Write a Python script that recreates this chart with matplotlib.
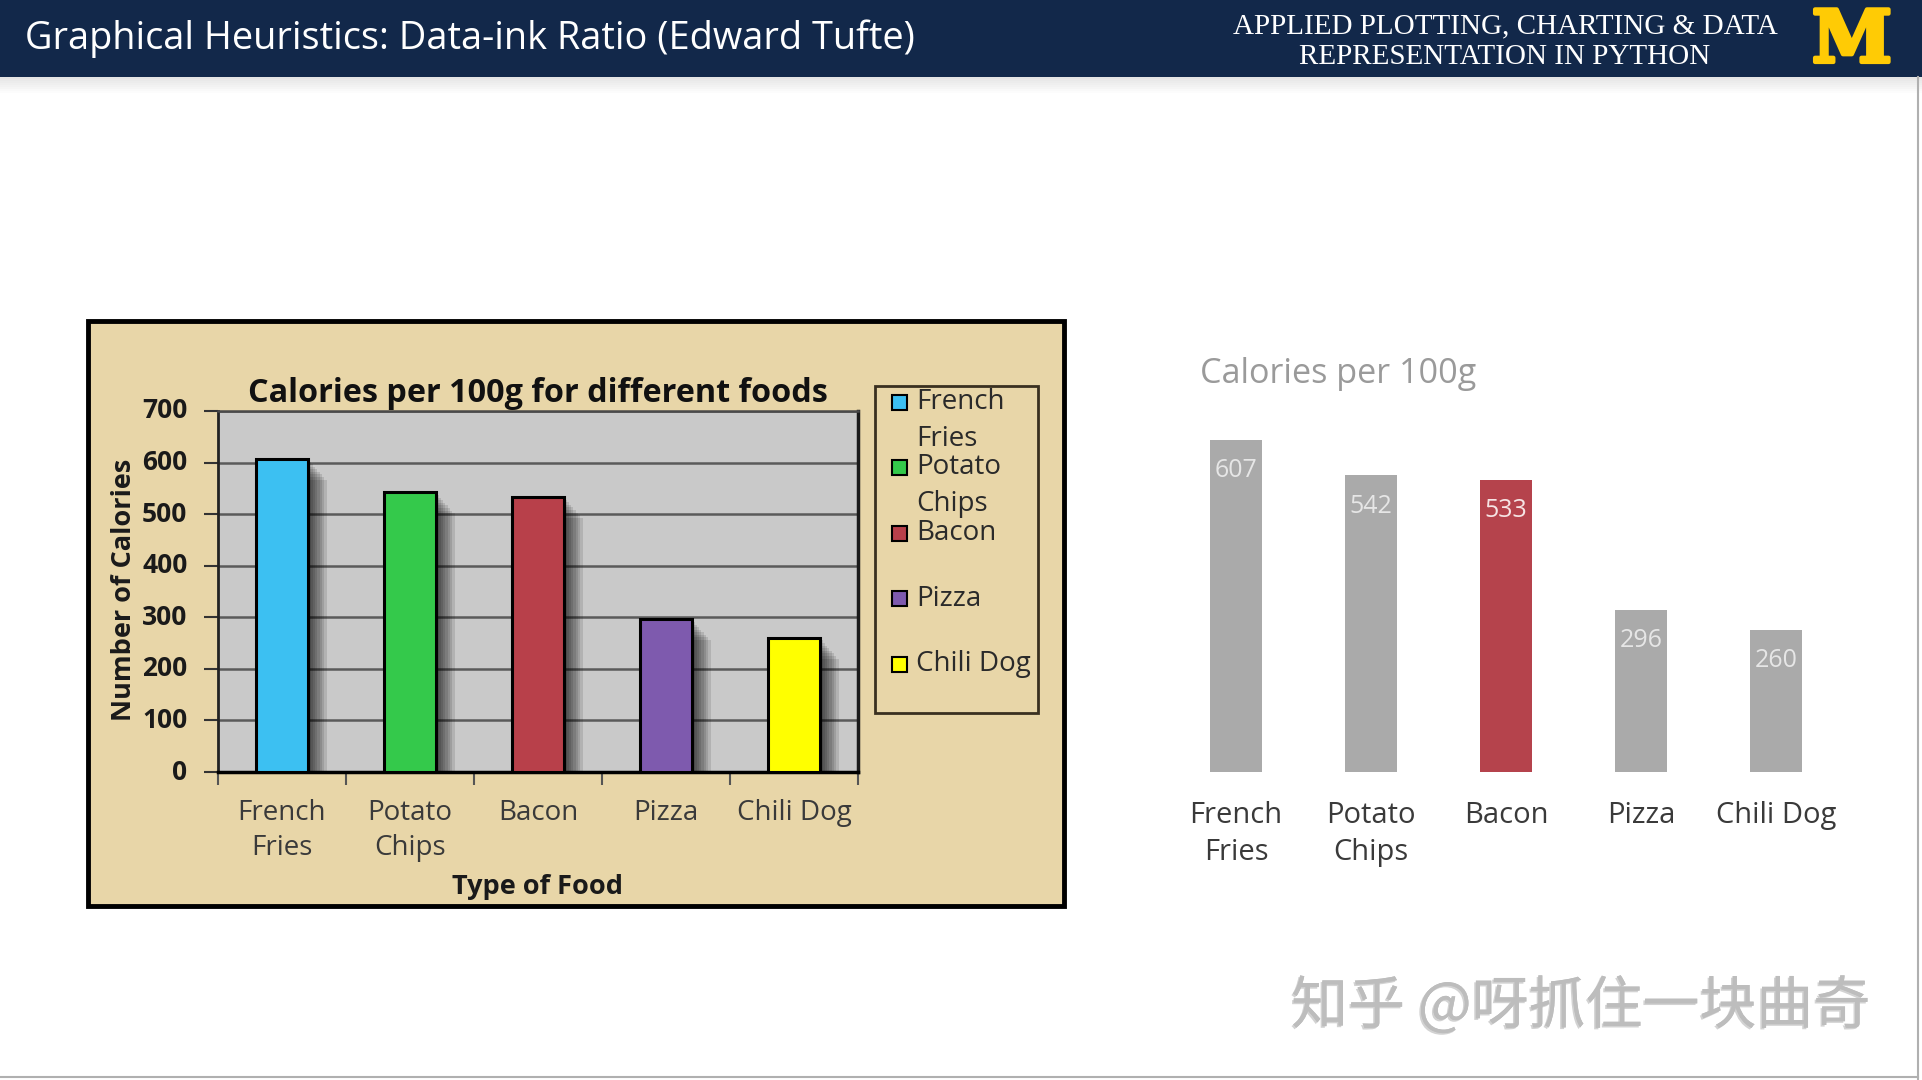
import numpy as np
import matplotlib
matplotlib.use('Agg')
import matplotlib.pyplot as plt
from matplotlib.patches import Rectangle
from matplotlib.lines import Line2D
from matplotlib import patheffects as pe
from matplotlib import transforms

# data
foods = ['French Fries', 'Potato Chips', 'Bacon', 'Pizza', 'Chili Dog']
tick_labels = ['French\nFries', 'Potato\nChips', 'Bacon', 'Pizza', 'Chili Dog']
calories = [607, 542, 533, 296, 260]
bar_colors = ['#3cc0f2', '#34c94b', '#b8404a', '#7e5aae', '#ffff00']
y_ticks = [0, 100, 200, 300, 400, 500, 600, 700]
highlight = 'Bacon'

W, H = 1922, 1080
plt.rcParams['font.family'] = ['Open Sans', 'DejaVu Sans']

fig = plt.figure(figsize=(W / 100, H / 100), dpi=100)
fig.patch.set_facecolor('white')


def box(x0, y0, x1, y1):
    # pixel box (origin top-left) -> figure rect
    return [x0 / W, 1 - y1 / H, (x1 - x0) / W, (y1 - y0) / H]


def rect(x0, y0, x1, y1, **kw):
    l, b, w, h = box(x0, y0, x1, y1)
    r = Rectangle((l, b), w, h, transform=fig.transFigure, **kw)
    fig.add_artist(r)
    return r


# ---- slide header ----
rect(0, 0, W, 77, facecolor='#12284a', edgecolor='none', zorder=-5)
for k in range(8):
    rect(0, 77 + k * 2, W, 79 + k * 2, facecolor='black', edgecolor='none',
         alpha=0.10 * (1 - k / 8), zorder=-5)
fig.text(25 / W, 1 - 39 / H, 'Graphical Heuristics: Data-ink Ratio (Edward Tufte)',
         color='white', fontsize=27.3, va='center', ha='left')
fig.text(1505 / W, 1 - 26 / H, 'APPLIED PLOTTING, CHARTING & DATA', color='white',
         fontsize=21, family='Liberation Serif', ha='center', va='center')
fig.text(1505 / W, 1 - 57 / H, 'REPRESENTATION IN PYTHON', color='white',
         fontsize=21, family='Liberation Serif', ha='center', va='center')
fig.text(1852 / W, 1 - 62 / H, 'M', color='#ffcb05', fontsize=52, weight='bold',
         family='DejaVu Serif', ha='center', va='baseline',
         path_effects=[pe.Stroke(linewidth=3, foreground='#ffcb05'), pe.Normal()])

# slide border lines
fig.add_artist(Line2D([1918 / W, 1918 / W], [0, 1 - 77 / H], transform=fig.transFigure,
                      color='#b0b0b0', lw=1.5))
fig.add_artist(Line2D([0, 1918 / W], [1 - 1077 / H, 1 - 1077 / H], transform=fig.transFigure,
                      color='#b0b0b0', lw=1.5))

# ---- left chart: the ink-heavy version ----
rect(88, 321, 1064, 906, facecolor='#e8d6a8', edgecolor='black', lw=3.5, zorder=-4)

x = np.arange(len(foods))
ax1 = fig.add_axes(box(218, 411, 858, 772))
ax1.set_facecolor('#c9c9c9')
for k in range(1, 9):
    ax1.bar(x + 0.018 * k, np.array(calories) - 5 * k, width=0.41, color='black',
            alpha=0.11, lw=0, zorder=2)
ax1.bar(x, calories, width=0.41, color=bar_colors, edgecolor='black', lw=2.2, zorder=3)
ax1.set_xlim(-0.5, len(foods) - 0.5)
ax1.set_ylim(0, 700)
ax1.set_yticks(y_ticks)
ax1.set_yticklabels([str(t) for t in y_ticks], fontsize=19, weight='bold', color='#1a1a1a')
ax1.tick_params(axis='y', length=10, width=1.5, pad=12, color='#333333')
nudge = transforms.ScaledTranslation(0, 3 / 100, fig.dpi_scale_trans)
for lab in ax1.get_yticklabels():
    lab.set_transform(lab.get_transform() + nudge)
ax1.set_xticks(x)
ax1.set_xticklabels(tick_labels, fontsize=20, color='#3a3a3a', linespacing=1.32)
ax1.tick_params(axis='x', length=0, pad=19.5)
ax1.set_xticks(np.arange(-0.5, len(foods), 1), minor=True)
ax1.tick_params(axis='x', which='minor', length=9, width=1.5, color='#555555')
ax1.grid(axis='y', color='#5a5a5a', lw=1.8)
ax1.set_axisbelow(True)
ax1.spines['left'].set_color('#222222')
ax1.spines['left'].set_linewidth(2)
ax1.spines['bottom'].set_color('black')
ax1.spines['bottom'].set_linewidth(2.5)
ax1.spines['top'].set_color('#4a4a4a')
ax1.spines['top'].set_linewidth(1.8)
ax1.spines['right'].set_color('#1a1a1a')
ax1.spines['right'].set_linewidth(2.5)

fig.text(538 / W, 1 - 393 / H, 'Calories per 100g for different foods', fontsize=23.3,
         weight='bold', color='#111111', ha='center', va='center')
fig.text(124 / W, 1 - 590 / H, 'Number of Calories', fontsize=19.5, weight='bold',
         color='#1a1a1a', rotation=90, ha='center', va='center')
fig.text(538 / W, 1 - 887 / H, 'Type of Food', fontsize=19.5, weight='bold',
         color='#1a1a1a', ha='center', va='center')

# legend drawn by hand so the two-line labels sit like the original
rect(875, 386, 1038, 713, facecolor='none', edgecolor='#3a3020', lw=2, zorder=2)
for i, (lab, c) in enumerate(zip(tick_labels, bar_colors)):
    yc = 402 + i * 65.5
    rect(892, yc - 7.5, 907, yc + 7.5, facecolor=c, edgecolor='black', lw=1.5, zorder=3)
    for j, line in enumerate(lab.split('\n')):
        fig.text(916 / W, 1 - (yc + j * 37) / H, line, fontsize=20, color='#2a2a2a',
                 ha='left', va='center')

# ---- right chart: the minimal version ----
ax2 = fig.add_axes(box(1168.5, 389, 1843.5, 772))
ax2.set_facecolor('none')
colors2 = ['#b5434c' if f == highlight else '#aaaaaa' for f in foods]
ax2.bar(x, calories, width=0.39, color=colors2, lw=0)
ax2.set_xlim(-0.5, len(foods) - 0.5)
ax2.set_ylim(0, 700)
ax2.set_yticks([])
ax2.set_xticks(x)
ax2.set_xticklabels(tick_labels, fontsize=21, color='#3a3a3a', linespacing=1.35)
ax2.tick_params(axis='x', length=0, pad=21)
for s in ax2.spines.values():
    s.set_visible(False)
for xi, v, f in zip(x, calories, foods):
    ax2.annotate(str(v), (xi, v), xytext=(0, -22), textcoords='offset points',
                 ha='center', va='center', fontsize=18,
                 color='#f6e4e4' if f == highlight else '#e6e6e6')
fig.text(1200 / W, 1 - 374 / H, 'Calories per 100g', fontsize=24.6, color='#9a9a9a',
         ha='left', va='center')

# watermark
fig.text(1581 / W, 1 - 1007 / H, '知乎 @呀抓住一块曲奇', fontsize=41, color='#bdbdbd',
         family=['Noto Sans CJK SC', 'DejaVu Sans'], ha='center', va='center',
         path_effects=[pe.withSimplePatchShadow(offset=(-1.2, -1.2), shadow_rgbFace='#909090',
                                                alpha=0.4), pe.Normal()])

fig.savefig('out.png', dpi=100)
